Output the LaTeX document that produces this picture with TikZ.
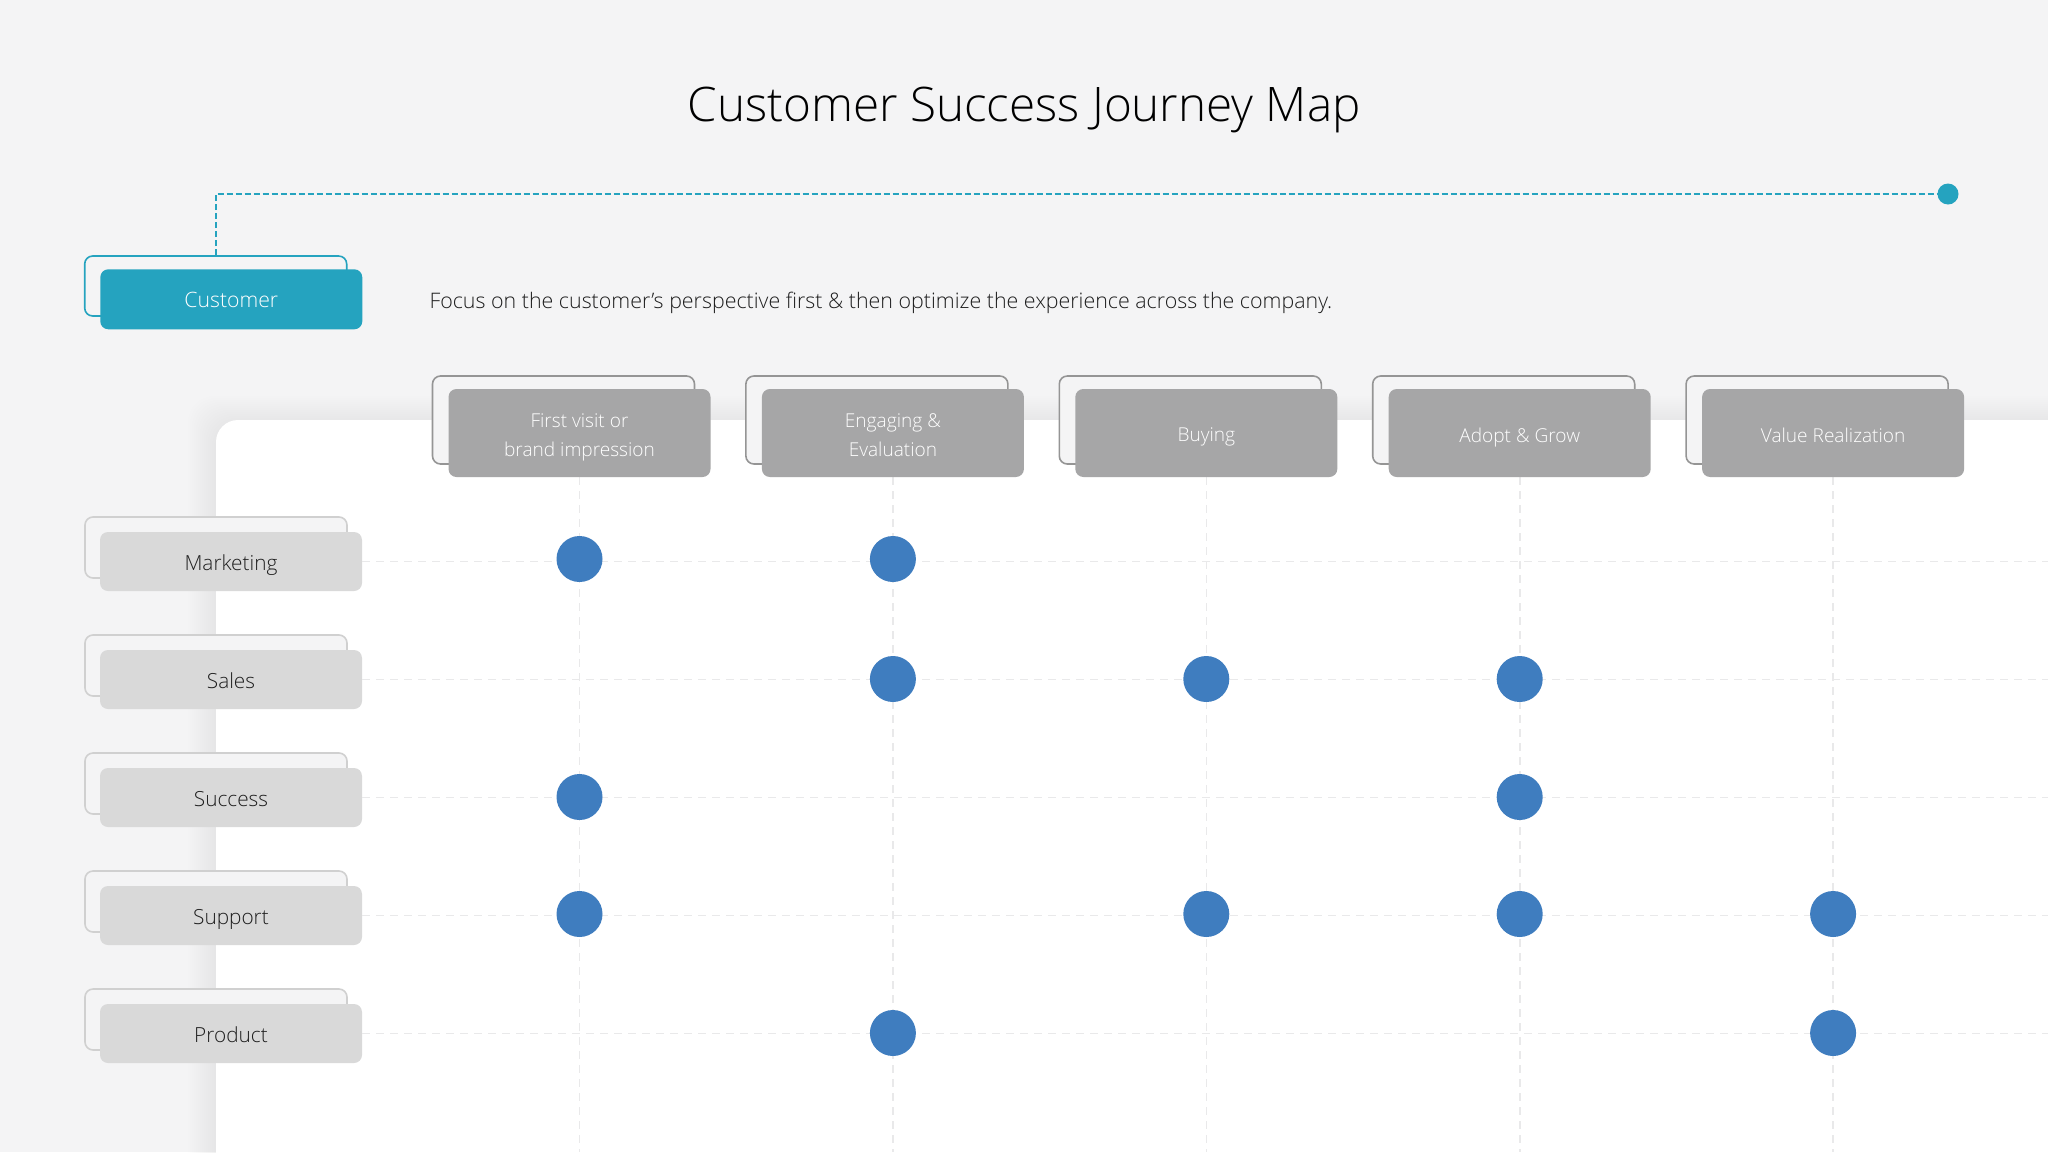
\documentclass[tikz,border=0pt]{standalone}
\usepackage{fontspec}
\setmainfont{Open Sans}
\newfontfamily\lightfont{Open Sans Light}
\definecolor{bg}{HTML}{F4F4F5}
\definecolor{teal}{HTML}{25A3BF}
\definecolor{stagegray}{HTML}{A6A6A7}
\definecolor{stageedge}{HTML}{959595}
\definecolor{rowgray}{HTML}{D9D9D9}
\definecolor{rowedge}{HTML}{D0D0D0}
\definecolor{dotblue}{HTML}{3F7DBF}
\definecolor{gridgray}{HTML}{E9E9EA}
\definecolor{textdark}{HTML}{1E1E1E}
\tikzset{
  backbox/.style={draw=#1, line width=1.6pt, fill=bg, rounded corners=8pt, minimum width=262pt, inner sep=0pt},
  frontbox/.style={fill=#1, rounded corners=8pt, minimum width=262pt, inner sep=0pt},
  stagetext/.style={text=white, font=\lightfont\fontsize{19.1}{29.5}\selectfont, align=center, inner sep=0pt, text depth=5pt},
  rowtext/.style={text=textdark, font=\lightfont\fontsize{20.8}{26}\selectfont, inner sep=0pt, text depth=5pt},
  jdot/.style={circle, fill=dotblue, minimum size=46pt, inner sep=0pt},
  gridline/.style={draw=gridgray, line width=1.6pt, dash pattern=on 8pt off 6pt},
  tealdash/.style={draw=teal, line width=1.6pt, dash pattern=on 6pt off 3pt},
}
\begin{document}
\begin{tikzpicture}[x=1pt,y=-1pt]
\useasboundingbox (0,0) rectangle (2048,1152);
\fill[bg] (0,0) rectangle (2048,1152);
% soft shadow of the white panel
\foreach \k in {1,...,14} {
  \fill[black, opacity=0.0045, rounded corners=26pt] ({216-2*\k},{424-2*\k}) rectangle (2120,1220);
}
% white panel
\fill[white, rounded corners=22pt] (216,420) rectangle (2120,1220);

% title
\node[font=\lightfont\fontsize{47.6}{56}\selectfont, text=black] (title) at (1024,110) {Customer Success Journey Map};

% customer
\node[backbox=teal, minimum height=60pt] (cback) at (215.7,286) {};
\node[frontbox=teal, minimum height=60pt] (cust) at (231.3,299.3) {};
\node[text=white, font=\lightfont\fontsize{21.2}{26}\selectfont, inner sep=0pt, text depth=5pt] (custtext) at (231.3,302.5) {Customer};
\node[circle, fill=teal, minimum size=21pt, inner sep=0pt] (enddot) at (1948,194) {};
\draw[tealdash] (cback.north) |- (enddot.west);

\node[anchor=west, text=textdark, font=\lightfont\fontsize{21.4}{26}\selectfont] (desc) at (426,303)
  {Focus on the customer’s perspective first \& then optimize the experience across the company.};

% grid coordinates
\foreach \i/\x in {1/579.5,2/892.9,3/1206.3,4/1519.7,5/1833.1} {
  \coordinate (cb\i) at (\x,1152);
}
\foreach \j/\y/\dy in {1/561.5/559,2/679.5/679,3/797.5/797,4/915.5/914,5/1033.5/1033} {
  \coordinate (re\j) at (2048,\y);
  \coordinate (dy\j) at (0,\dy);
}

% stage boxes
\foreach \i/\x/\t in {1/579.5/{First visit or\\brand impression},2/892.9/{Engaging \&\\Evaluation},3/1206.3/Buying,4/1519.7/{Adopt \& Grow},5/1833.1/Value Realization} {
  \draw[gridline] (\x,477) -- (cb\i);
  \node[backbox=stageedge, minimum height=88pt] (sb\i) at (\x-16,420) {};
  \node[frontbox=stagegray, minimum height=88pt] (s\i) at (\x,433) {};
  \node[stagetext] (st\i) at (\x,437.5) {\t};
}

% row boxes
\foreach \j/\y/\t in {1/561.5/Marketing,2/679.5/Sales,3/797.5/Success,4/915.5/Support,5/1033.5/Product} {
  \node[backbox=rowedge, minimum height=61pt] (rb\j) at (216,\y-14) {};
  \node[frontbox=rowgray, minimum height=59pt] (r\j) at (231,\y) {};
  \node[rowtext] (rt\j) at (231,\y+3.6) {\t};
  \draw[gridline] (r\j.east) -- (re\j);
}

% dots
\foreach \i/\j in {1/1,2/1,2/2,3/2,4/2,1/3,4/3,1/4,3/4,4/4,5/4,2/5,5/5} {
  \node[jdot] (d\i\j) at (s\i |- dy\j) {};
}
\end{tikzpicture}
\end{document}
